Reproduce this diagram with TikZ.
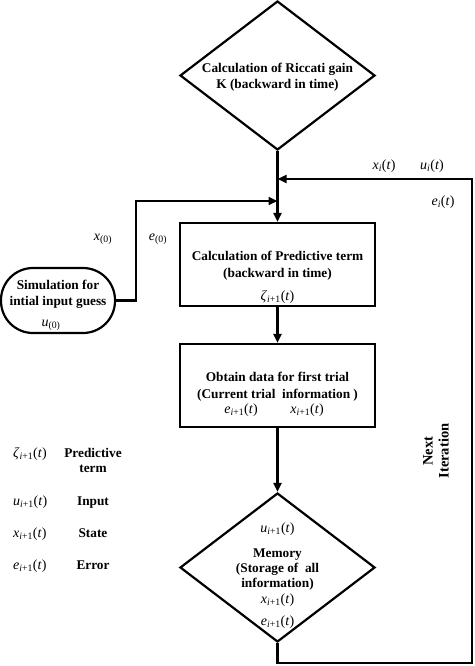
\documentclass[tikz,border=0pt]{standalone}
\usepackage{fontspec}
\setmainfont{Liberation Serif}
\usetikzlibrary{arrows.meta,shapes.geometric}
\newcommand\vt[2]{\textit{#1}\textsubscript{#2}(\textit{t})}
\newcommand\ii{\textit{i}}
\begin{document}
\begin{tikzpicture}[x=1pt,y=-1pt,
  line width=2.2pt,
  txt/.style={font=\fontsize{13.3}{16}\selectfont\bfseries, inner sep=0pt, text height=9pt, text depth=0pt},
  rtxt/.style={font=\fontsize{14.5}{16}\selectfont\bfseries, inner sep=0pt, align=center},
  lab/.style={font=\fontsize{14}{16}\selectfont, inner sep=0pt, text height=9pt, text depth=0pt},
  dia/.style={draw, diamond, inner sep=0pt, minimum width=195pt, minimum height=149pt},
  blk/.style={draw, rectangle, inner sep=0pt, minimum width=195pt, minimum height=83pt},
  term/.style={draw, rounded corners=32pt, inner sep=0pt, minimum width=114pt, minimum height=65pt},
  arr/.style={-{Triangle[length=9pt,width=8pt]}, line width=2.5pt}
]
\useasboundingbox (0,0) rectangle (474,666);
% shapes
\node[dia] (riccati) at (277.5,75.5) {};
\node[blk] (pred) at (277.5,264.5) {};
\node[blk] (obtain) at (277.5,385.5) {};
\node[dia] (memory) at (277.5,567.5) {};
\node[term] (sim) at (58,300.5) {};
% junction coordinates
\coordinate (j1) at (277.5,179);
\coordinate (j2) at (277.5,201);
\coordinate (k1) at (136,201);
\coordinate (c1) at (277.5,663);
\coordinate (c2) at (472,663);
\coordinate (c3) at (472,179);
% connectors
\draw[arr] (riccati.south) -- (pred.north);
\draw[arr] (pred.south) -- (obtain.north);
\draw[arr] (obtain.south) -- (memory.north);
\draw[arr] (memory.south) -- (c1) -- (c2) -- (c3) -- (j1);
\draw[arr] (sim.east) -| (k1) -- (j2);
% texts in shapes
\node[txt] (r1) at (277.5,68) {Calculation of Riccati gain};
\node[txt] (r2) at (277.5,84) {K (backward in time)};
\node[txt] (p1) at (277.5,256) {Calculation of Predictive term};
\node[txt] (p2) at (277.5,273) {(backward in time)};
\node[lab] (p3) at (277.5,296) {\textit{ζ}\textsubscript{\ii+1}(\textit{t})};
\node[txt] (o1) at (277.5,377) {Obtain data for first trial};
\node[txt] (o2) at (277.5,394) {(Current trial\ \ information )};
\node[lab] (o3) at (241,409) {\vt{e}{\ii+1}};
\node[lab] (o4) at (307,409) {\vt{x}{\ii+1}};
\node[lab] (m1) at (277.5,528) {\vt{u}{\ii+1}};
\node[txt] (m2) at (277.5,553) {Memory};
\node[txt] (m3) at (277.5,568) {(Storage of\ \ all};
\node[txt] (m4) at (277.5,583) {information)};
\node[lab] (m5) at (277.5,599) {\vt{x}{\ii+1}};
\node[lab] (m6) at (277.5,621) {\vt{e}{\ii+1}};
\node[txt] (s1) at (58,285) {Simulation for};
\node[txt] (s2) at (58,301) {intial input guess};
\node[lab] (s3) at (51,322) {\textit{u}\textsubscript{(0)}};
% connector labels
\node[lab] (lx) at (384,165) {\vt{x}{\ii}};
\node[lab] (lu) at (432,165) {\vt{u}{\ii}};
\node[lab] (le) at (443,201) {\vt{e}{\ii}};
\node[lab] (lx0) at (103,236) {\textit{x}\textsubscript{(0)}};
\node[lab] (le0) at (158,236) {\textit{e}\textsubscript{(0)}};
\node[rtxt, rotate=90] (next) at (436,451) {Next\\Iteration};
% legend
\node[lab, anchor=west] (g1) at (12,453) {\textit{ζ}\textsubscript{\ii+1}(\textit{t})};
\node[txt] (h1) at (93,453) {Predictive};
\node[txt] (h1b) at (93,468) {term};
\node[lab, anchor=west] (g2) at (12,501) {\vt{u}{\ii+1}};
\node[txt] (h2) at (93,501) {Input};
\node[lab, anchor=west] (g3) at (12,533) {\vt{x}{\ii+1}};
\node[txt] (h3) at (93,533) {State};
\node[lab, anchor=west] (g4) at (12,565) {\vt{e}{\ii+1}};
\node[txt] (h4) at (93,565) {Error};
\end{tikzpicture}
\end{document}
